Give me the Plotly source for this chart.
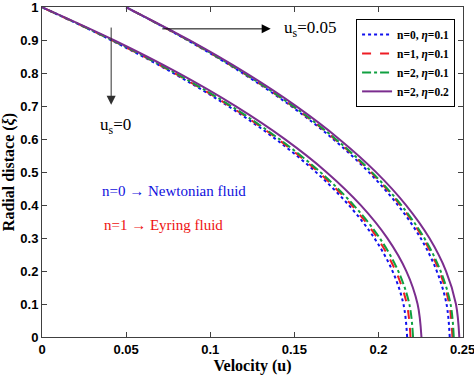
import plotly.graph_objects as go

xi = [0.0, 0.1, 0.2, 0.3, 0.4, 0.5, 0.6, 0.7, 0.8, 0.9, 1.0]

# u_s = 0 set
u0_n0 = [0.2170, 0.2148, 0.2083, 0.1975, 0.1823, 0.1628, 0.1389, 0.1107, 0.0781, 0.0412, 0.0]
u0_n1 = [0.2190, 0.2168, 0.2102, 0.1993, 0.1840, 0.1643, 0.1402, 0.1117, 0.0788, 0.0416, 0.0]
u0_n2a = [0.2205, 0.2183, 0.2117, 0.2007, 0.1852, 0.1654, 0.1411, 0.1125, 0.0794, 0.0419, 0.0]
u0_n2b = [0.2255, 0.2232, 0.2165, 0.2052, 0.1894, 0.1691, 0.1443, 0.1150, 0.0812, 0.0428, 0.0]

# u_s = 0.05 set
u5_n0 = [0.2423, 0.2404, 0.2346, 0.2250, 0.2115, 0.1942, 0.1731, 0.1481, 0.1192, 0.0865, 0.05]
u5_n1 = [0.2439, 0.2420, 0.2361, 0.2264, 0.2129, 0.1954, 0.1741, 0.1489, 0.1198, 0.0868, 0.05]
u5_n2a = [0.2447, 0.2428, 0.2369, 0.2272, 0.2135, 0.1960, 0.1746, 0.1493, 0.1201, 0.0870, 0.05]
u5_n2b = [0.2480, 0.2460, 0.2401, 0.2302, 0.2163, 0.1985, 0.1767, 0.1510, 0.1213, 0.0876, 0.05]

names = ["<b>n=0, <i>η</i>=0.1</b>", "<b>n=1, <i>η</i>=0.1</b>", "<b>n=2, <i>η</i>=0.1</b>", "<b>n=2, <i>η</i>=0.2</b>"]
colors = ["#1010ee", "#ee1c24", "#10a040", "#7b2d8e"]
dashes = ["dot", "dash", "dashdot", "solid"]
set0 = [u0_n0, u0_n1, u0_n2a, u0_n2b]
set5 = [u5_n0, u5_n1, u5_n2a, u5_n2b]

x_ticks = [0, 0.05, 0.1, 0.15, 0.2, 0.25]
x_tick_text = ["0", "0.05", "0.1", "0.15", "0.2", "0.25"]
y_ticks = [0, 0.1, 0.2, 0.3, 0.4, 0.5, 0.6, 0.7, 0.8, 0.9, 1.0]
y_tick_text = ["0", "0.1", "0.2", "0.3", "0.4", "0.5", "0.6", "0.7", "0.8", "0.9", "1"]

fig = go.Figure()
for i in range(4):
    fig.add_trace(go.Scatter(x=set0[i], y=xi, mode="lines", name=names[i],
                             line=dict(color=colors[i], dash=dashes[i], width=2, shape="spline"),
                             legendgroup=str(i)))
    fig.add_trace(go.Scatter(x=set5[i], y=xi, mode="lines", name=names[i], showlegend=False,
                             line=dict(color=colors[i], dash=dashes[i], width=2, shape="spline"),
                             legendgroup=str(i)))

serif = "Liberation Serif, Times New Roman, serif"
sans = "Liberation Sans, Arial, sans-serif"

fig.update_layout(
    width=474, height=377,
    margin=dict(l=42, r=11, t=7, b=40, autoexpand=False),
    plot_bgcolor="white", paper_bgcolor="white",
    showlegend=True,
    legend=dict(x=0.746, y=0.964, xanchor="left", yanchor="top",
                bordercolor="black", borderwidth=1, bgcolor="white",
                font=dict(family=serif, size=11.5, color="black"),
                tracegroupgap=0, itemwidth=30),
    xaxis=dict(range=[0, 0.2502], tickvals=x_ticks, ticktext=["<b>%s</b>" % t for t in x_tick_text],
               ticks="inside", ticklen=5, tickcolor="#404040", mirror="ticks", automargin=False,
               ticklabeloverflow="allow",
               showline=True, linecolor="#404040", linewidth=1, showgrid=False, zeroline=False,
               tickfont=dict(family=sans, size=13, color="black"),
               title=dict(text="<b>Velocity (u)</b>", font=dict(family=serif, size=16, color="black"),
                          standoff=2)),
    yaxis=dict(range=[0, 1.0008], tickvals=y_ticks, ticktext=["<b>%s</b>" % t for t in y_tick_text],
               ticks="inside", ticklen=5, tickcolor="#404040", mirror="ticks", automargin=False,
               ticklabeloverflow="allow",
               showline=True, linecolor="#404040", linewidth=1, showgrid=False, zeroline=False,
               tickfont=dict(family=sans, size=13, color="black"),
               title=dict(text="<b>Radial distace (<i>ξ</i>)</b>", font=dict(family=serif, size=16, color="black"),
                          standoff=2)),
)

# arrows
fig.add_annotation(x=0.1359, y=0.9345, ax=0.0706, ay=0.9345, xref="x", yref="y", axref="x", ayref="y",
                   showarrow=True, arrowhead=2, arrowsize=1.8, arrowwidth=1, arrowcolor="black", text="")
fig.add_annotation(x=0.0411, y=0.704, ax=0.0411, ay=0.943, xref="x", yref="y", axref="x", ayref="y",
                   showarrow=True, arrowhead=2, arrowsize=1.8, arrowwidth=1, arrowcolor="#303030", text="")

fig.add_annotation(x=0.1426, y=0.935, xref="x", yref="y", xanchor="left", yanchor="middle", showarrow=False,
                   text="u<sub>s</sub>=0.05", font=dict(family=serif, size=17, color="black"))
fig.add_annotation(x=0.0334, y=0.640, xref="x", yref="y", xanchor="left", yanchor="middle", showarrow=False,
                   text="u<sub>s</sub>=0", font=dict(family=serif, size=17, color="black"))
fig.add_annotation(x=0.0346, y=0.442, xref="x", yref="y", xanchor="left", yanchor="middle", showarrow=False,
                   text="n=0 → Newtonian fluid", font=dict(family=serif, size=15, color="#1010dd"))
fig.add_annotation(x=0.0358, y=0.339, xref="x", yref="y", xanchor="left", yanchor="middle", showarrow=False,
                   text="n=1 → Eyring fluid", font=dict(family=serif, size=15, color="#ee1111"))

fig.write_html("out.html", config={"displayModeBar": False},
               post_script="document.body.style.margin='0';document.body.style.overflow='hidden';")
